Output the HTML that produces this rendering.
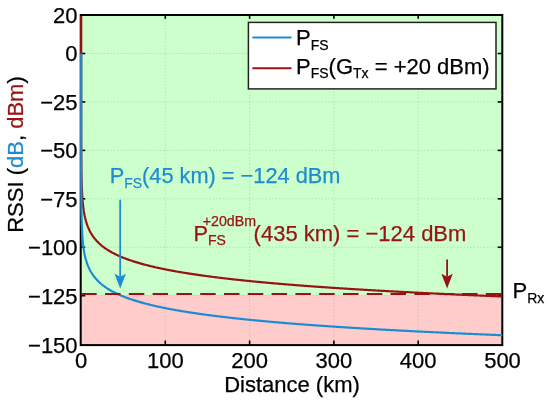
<!DOCTYPE html>
<html><head><meta charset="utf-8"><style>
html,body{margin:0;padding:0;background:#fff;width:550px;height:401px;overflow:hidden}
svg{display:block}
</style></head><body>
<svg width="550" height="401" viewBox="0 0 550 401"><defs><clipPath id="c"><rect x="79.70" y="16.00" width="422.60" height="328.10"/></clipPath></defs><rect x="0" y="0" width="550" height="401" fill="#fff"/><rect x="80.70" y="15.00" width="421.60" height="280.00" fill="#ccffcc"/><rect x="80.70" y="295.00" width="421.60" height="50.10" fill="#ffcccc"/><g stroke="#9a9a9a" stroke-opacity="0.32" stroke-width="1" stroke-dasharray="1.6 1.7"><line x1="165.30" y1="15.00" x2="165.30" y2="345.10"/><line x1="249.60" y1="15.00" x2="249.60" y2="345.10"/><line x1="333.90" y1="15.00" x2="333.90" y2="345.10"/><line x1="418.20" y1="15.00" x2="418.20" y2="345.10"/><line x1="80.70" y1="53.50" x2="502.30" y2="53.50"/><line x1="80.70" y1="101.94" x2="502.30" y2="101.94"/><line x1="80.70" y1="150.38" x2="502.30" y2="150.38"/><line x1="80.70" y1="198.81" x2="502.30" y2="198.81"/><line x1="80.70" y1="247.25" x2="502.30" y2="247.25"/><line x1="80.70" y1="295.69" x2="502.30" y2="295.69"/></g><rect x="80.70" y="15.00" width="421.60" height="330.10" fill="none" stroke="#000" stroke-width="2"/><g stroke="#000" stroke-width="1.6"><line x1="165.30" y1="345.10" x2="165.30" y2="340.50"/><line x1="165.30" y1="15.00" x2="165.30" y2="18.80"/><line x1="249.60" y1="345.10" x2="249.60" y2="340.50"/><line x1="249.60" y1="15.00" x2="249.60" y2="18.80"/><line x1="333.90" y1="345.10" x2="333.90" y2="340.50"/><line x1="333.90" y1="15.00" x2="333.90" y2="18.80"/><line x1="418.20" y1="345.10" x2="418.20" y2="340.50"/><line x1="418.20" y1="15.00" x2="418.20" y2="18.80"/><line x1="80.70" y1="53.50" x2="85.30" y2="53.50"/><line x1="502.30" y1="53.50" x2="497.70" y2="53.50"/><line x1="80.70" y1="101.94" x2="85.30" y2="101.94"/><line x1="502.30" y1="101.94" x2="497.70" y2="101.94"/><line x1="80.70" y1="150.38" x2="85.30" y2="150.38"/><line x1="502.30" y1="150.38" x2="497.70" y2="150.38"/><line x1="80.70" y1="198.81" x2="85.30" y2="198.81"/><line x1="502.30" y1="198.81" x2="497.70" y2="198.81"/><line x1="80.70" y1="247.25" x2="85.30" y2="247.25"/><line x1="502.30" y1="247.25" x2="497.70" y2="247.25"/><line x1="80.70" y1="295.69" x2="85.30" y2="295.69"/><line x1="502.30" y1="295.69" x2="497.70" y2="295.69"/></g><g clip-path="url(#c)" fill="none" stroke-width="2.2" stroke-linejoin="round"><path d="M81.20,14.75 L81.20,15.38 L81.20,16.01 L81.20,16.64 L81.20,17.27 L81.20,17.90 L81.20,18.53 L81.20,19.16 L81.20,19.79 L81.20,20.41 L81.20,21.04 L81.20,21.67 L81.20,22.30 L81.20,22.93 L81.20,23.56 L81.20,24.19 L81.20,24.82 L81.20,25.45 L81.20,26.08 L81.20,26.71 L81.20,27.34 L81.20,27.97 L81.20,28.60 L81.20,29.23 L81.20,29.86 L81.20,30.49 L81.20,31.11 L81.20,31.74 L81.20,32.37 L81.20,33.00 L81.20,33.63 L81.20,34.26 L81.20,34.89 L81.20,35.52 L81.20,36.15 L81.20,36.78 L81.20,37.41 L81.20,38.04 L81.20,38.67 L81.20,39.30 L81.20,39.93 L81.20,40.56 L81.20,41.19 L81.20,41.81 L81.20,42.44 L81.20,43.07 L81.20,43.70 L81.20,44.33 L81.20,44.96 L81.20,45.59 L81.20,46.22 L81.20,46.85 L81.20,47.48 L81.20,48.11 L81.20,48.74 L81.20,49.37 L81.20,50.00 L81.20,50.63 L81.20,51.26 L81.20,51.88 L81.20,52.51 L81.20,53.14 L81.20,53.77 L81.20,54.40 L81.20,55.03 L81.20,55.66 L81.20,56.29 L81.20,56.92 L81.20,57.55 L81.20,58.18 L81.20,58.81 L81.20,59.44 L81.20,60.07 L81.20,60.70 L81.20,61.33 L81.20,61.96 L81.20,62.58 L81.20,63.21 L81.20,63.84 L81.20,64.47 L81.20,65.10 L81.20,65.73 L81.20,66.36 L81.20,66.99 L81.20,67.62 L81.20,68.25 L81.20,68.88 L81.20,69.51 L81.20,70.14 L81.20,70.77 L81.20,71.40 L81.20,72.03 L81.20,72.66 L81.20,73.28 L81.20,73.91 L81.20,74.54 L81.20,75.17 L81.20,75.80 L81.20,76.43 L81.20,77.06 L81.20,77.69 L81.20,78.32 L81.20,78.95 L81.20,79.58 L81.20,80.21 L81.20,80.84 L81.20,81.47 L81.20,82.10 L81.20,82.73 L81.20,83.36 L81.20,83.98 L81.20,84.61 L81.20,85.24 L81.20,85.87 L81.20,86.50 L81.20,87.13 L81.20,87.76 L81.20,88.39 L81.20,89.02 L81.20,89.65 L81.20,90.28 L81.20,90.91 L81.20,91.54 L81.20,92.17 L81.20,92.80 L81.20,93.43 L81.20,94.06 L81.20,94.68 L81.20,95.31 L81.20,95.94 L81.20,96.57 L81.20,97.20 L81.20,97.83 L81.20,98.46 L81.20,99.09 L81.20,99.72 L81.20,100.35 L81.20,100.98 L81.20,101.61 L81.20,102.24 L81.20,102.87 L81.20,103.50 L81.20,104.13 L81.20,104.75 L81.20,105.38 L81.21,106.01 L81.21,106.64 L81.21,107.27 L81.21,107.90 L81.21,108.53 L81.21,109.16 L81.21,109.79 L81.21,110.42 L81.21,111.05 L81.21,111.68 L81.21,112.31 L81.21,112.94 L81.21,113.57 L81.21,114.20 L81.21,114.83 L81.21,115.45 L81.21,116.08 L81.21,116.71 L81.21,117.34 L81.21,117.97 L81.21,118.60 L81.21,119.23 L81.21,119.86 L81.21,120.49 L81.21,121.12 L81.21,121.75 L81.21,122.38 L81.21,123.01 L81.21,123.64 L81.22,124.27 L81.22,124.90 L81.22,125.53 L81.22,126.15 L81.22,126.78 L81.22,127.41 L81.22,128.04 L81.22,128.67 L81.22,129.30 L81.22,129.93 L81.22,130.56 L81.22,131.19 L81.22,131.82 L81.22,132.45 L81.23,133.08 L81.23,133.71 L81.23,134.34 L81.23,134.97 L81.23,135.60 L81.23,136.23 L81.23,136.85 L81.23,137.48 L81.23,138.11 L81.24,138.74 L81.24,139.37 L81.24,140.00 L81.24,140.63 L81.24,141.26 L81.24,141.89 L81.24,142.52 L81.25,143.15 L81.25,143.78 L81.25,144.41 L81.25,145.04 L81.25,145.67 L81.26,146.30 L81.26,146.93 L81.26,147.55 L81.26,148.18 L81.27,148.81 L81.27,149.44 L81.27,150.07 L81.27,150.70 L81.28,151.33 L81.28,151.96 L81.28,152.59 L81.28,153.22 L81.29,153.85 L81.29,154.48 L81.29,155.11 L81.30,155.74 L81.30,156.37 L81.31,157.00 L81.31,157.63 L81.31,158.25 L81.32,158.88 L81.32,159.51 L81.33,160.14 L81.33,160.77 L81.34,161.40 L81.34,162.03 L81.35,162.66 L81.35,163.29 L81.36,163.92 L81.37,164.55 L81.37,165.18 L81.38,165.81 L81.39,166.44 L81.39,167.07 L81.40,167.70 L81.41,168.32 L81.42,168.95 L81.42,169.58 L81.43,170.21 L81.44,170.84 L81.45,171.47 L81.46,172.10 L81.47,172.73 L81.48,173.36 L81.49,173.99 L81.50,174.62 L81.51,175.25 L81.53,175.88 L81.54,176.51 L81.55,177.14 L81.56,177.77 L81.58,178.40 L81.59,179.02 L81.61,179.65 L81.62,180.28 L81.64,180.91 L81.66,181.54 L81.67,182.17 L81.69,182.80 L81.71,183.43 L81.73,184.06 L81.75,184.69 L81.77,185.32 L81.79,185.95 L81.81,186.58 L81.84,187.21 L81.86,187.84 L81.89,188.47 L81.91,189.10 L81.94,189.72 L81.97,190.35 L82.00,190.98 L82.03,191.61 L82.06,192.24 L82.09,192.87 L82.13,193.50 L82.16,194.13 L82.20,194.76 L82.24,195.39 L82.28,196.02 L82.32,196.65 L82.36,197.28 L82.40,197.91 L82.45,198.54 L82.50,199.17 L82.55,199.80 L82.60,200.42 L82.65,201.05 L82.71,201.68 L82.76,202.31 L82.82,202.94 L82.89,203.57 L83.31,207.33 L83.73,210.40 L84.15,212.99 L84.57,215.24 L84.99,217.22 L85.42,218.99 L85.84,220.60 L86.26,222.06 L86.68,223.41 L87.10,224.65 L87.52,225.82 L87.94,226.90 L88.37,227.92 L88.79,228.88 L89.21,229.79 L89.63,230.66 L90.05,231.48 L90.47,232.26 L90.89,233.01 L91.32,233.73 L91.74,234.41 L92.16,235.07 L92.58,235.71 L93.00,236.32 L93.42,236.91 L93.84,237.48 L94.27,238.03 L94.69,238.57 L95.11,239.08 L95.53,239.59 L95.95,240.07 L96.37,240.55 L96.80,241.01 L97.22,241.46 L97.64,241.90 L98.06,242.32 L98.48,242.74 L98.90,243.14 L99.32,243.54 L99.75,243.93 L100.17,244.30 L100.59,244.67 L101.01,245.04 L101.43,245.39 L101.85,245.74 L102.28,246.08 L102.70,246.41 L103.12,246.74 L103.54,247.06 L103.96,247.37 L104.38,247.68 L104.80,247.98 L105.23,248.28 L105.65,248.57 L106.07,248.86 L106.49,249.15 L106.91,249.42 L107.33,249.70 L107.75,249.97 L108.18,250.23 L108.60,250.49 L109.02,250.75 L109.44,251.00 L109.86,251.25 L110.28,251.50 L110.70,251.74 L111.13,251.98 L111.55,252.21 L111.97,252.45 L112.39,252.67 L112.81,252.90 L113.23,253.12 L113.66,253.34 L114.08,253.56 L114.50,253.77 L114.92,253.99 L115.34,254.20 L115.76,254.40 L116.18,254.61 L116.61,254.81 L117.03,255.01 L117.45,255.20 L117.87,255.40 L118.29,255.59 L118.71,255.78 L119.14,255.97 L119.56,256.15 L119.98,256.34 L120.40,256.52 L120.82,256.70 L121.66,257.05 L122.51,257.40 L123.35,257.74 L124.19,258.08 L125.04,258.40 L125.88,258.72 L126.72,259.04 L127.57,259.35 L128.41,259.65 L129.25,259.95 L130.09,260.24 L130.94,260.53 L131.78,260.81 L132.62,261.09 L133.47,261.36 L134.31,261.63 L135.15,261.90 L136.00,262.16 L136.84,262.41 L137.68,262.67 L138.52,262.92 L139.37,263.16 L140.21,263.40 L141.05,263.64 L141.90,263.88 L142.74,264.11 L143.58,264.34 L144.42,264.57 L145.27,264.79 L146.11,265.01 L146.95,265.23 L147.80,265.44 L148.64,265.65 L149.48,265.86 L150.33,266.07 L151.17,266.27 L152.01,266.47 L152.85,266.67 L153.70,266.87 L154.54,267.06 L155.38,267.26 L156.23,267.45 L157.07,267.63 L157.91,267.82 L158.76,268.00 L159.60,268.19 L160.44,268.37 L161.28,268.54 L162.13,268.72 L162.97,268.89 L163.81,269.07 L164.66,269.24 L165.50,269.41 L166.34,269.57 L167.19,269.74 L168.03,269.90 L168.87,270.07 L169.71,270.23 L170.56,270.39 L171.40,270.55 L172.24,270.70 L173.09,270.86 L173.93,271.01 L174.77,271.16 L175.62,271.31 L176.46,271.46 L177.30,271.61 L178.14,271.76 L178.99,271.90 L179.83,272.05 L180.67,272.19 L181.52,272.33 L182.36,272.48 L183.20,272.61 L184.05,272.75 L184.89,272.89 L185.73,273.03 L186.57,273.16 L187.42,273.30 L188.26,273.43 L189.10,273.56 L189.95,273.69 L190.79,273.82 L191.63,273.95 L192.48,274.08 L193.32,274.21 L194.16,274.33 L195.00,274.46 L195.85,274.58 L196.69,274.70 L197.53,274.83 L198.38,274.95 L199.22,275.07 L200.06,275.19 L200.91,275.31 L201.75,275.43 L202.59,275.54 L203.44,275.66 L204.28,275.78 L205.12,275.89 L205.96,276.00 L206.81,276.12 L207.65,276.23 L208.49,276.34 L209.34,276.45 L210.18,276.56 L211.02,276.67 L211.86,276.78 L212.71,276.89 L213.55,277.00 L214.39,277.10 L215.24,277.21 L216.08,277.32 L216.92,277.42 L217.77,277.53 L218.61,277.63 L219.45,277.73 L220.29,277.83 L221.14,277.94 L221.98,278.04 L222.82,278.14 L223.67,278.24 L224.51,278.34 L225.35,278.44 L226.20,278.53 L227.04,278.63 L227.88,278.73 L228.72,278.82 L229.57,278.92 L230.41,279.02 L231.25,279.11 L232.10,279.20 L232.94,279.30 L233.78,279.39 L234.63,279.48 L235.47,279.58 L236.31,279.67 L237.16,279.76 L238.00,279.85 L238.84,279.94 L239.68,280.03 L240.53,280.12 L241.37,280.21 L242.21,280.30 L243.06,280.38 L243.90,280.47 L244.74,280.56 L245.58,280.65 L246.43,280.73 L247.27,280.82 L248.11,280.90 L248.96,280.99 L249.80,281.07 L250.64,281.16 L251.49,281.24 L252.33,281.32 L253.17,281.40 L254.01,281.49 L254.86,281.57 L255.70,281.65 L256.54,281.73 L257.39,281.81 L258.23,281.89 L259.07,281.97 L259.92,282.05 L260.76,282.13 L261.60,282.21 L262.44,282.29 L263.29,282.37 L264.13,282.44 L264.97,282.52 L265.82,282.60 L266.66,282.68 L267.50,282.75 L268.35,282.83 L269.19,282.90 L270.03,282.98 L270.88,283.05 L271.72,283.13 L272.56,283.20 L273.40,283.28 L274.25,283.35 L275.09,283.42 L275.93,283.50 L276.78,283.57 L277.62,283.64 L278.46,283.71 L279.31,283.79 L280.15,283.86 L280.99,283.93 L281.83,284.00 L282.68,284.07 L283.52,284.14 L284.36,284.21 L285.21,284.28 L286.05,284.35 L286.89,284.42 L287.73,284.49 L288.58,284.56 L289.42,284.62 L290.26,284.69 L291.11,284.76 L291.95,284.83 L292.79,284.89 L293.64,284.96 L294.48,285.03 L295.32,285.09 L296.17,285.16 L297.01,285.23 L297.85,285.29 L298.69,285.36 L299.54,285.42 L300.38,285.49 L301.22,285.55 L302.07,285.62 L302.91,285.68 L303.75,285.74 L304.59,285.81 L305.44,285.87 L306.28,285.93 L307.12,286.00 L307.97,286.06 L308.81,286.12 L309.65,286.18 L310.50,286.25 L311.34,286.31 L312.18,286.37 L313.02,286.43 L313.87,286.49 L314.71,286.55 L315.55,286.61 L316.40,286.67 L317.24,286.73 L318.08,286.79 L318.93,286.85 L319.77,286.91 L320.61,286.97 L321.45,287.03 L322.30,287.09 L323.14,287.15 L323.98,287.21 L324.83,287.27 L325.67,287.32 L326.51,287.38 L327.36,287.44 L328.20,287.50 L329.04,287.56 L329.88,287.61 L330.73,287.67 L331.57,287.73 L332.41,287.78 L333.26,287.84 L334.10,287.90 L334.94,287.95 L335.79,288.01 L336.63,288.06 L337.47,288.12 L338.31,288.17 L339.16,288.23 L340.00,288.28 L340.84,288.34 L341.69,288.39 L342.53,288.45 L343.37,288.50 L344.22,288.56 L345.06,288.61 L345.90,288.66 L346.75,288.72 L347.59,288.77 L348.43,288.82 L349.27,288.88 L350.12,288.93 L350.96,288.98 L351.80,289.03 L352.65,289.09 L353.49,289.14 L354.33,289.19 L355.18,289.24 L356.02,289.29 L356.86,289.35 L357.70,289.40 L358.55,289.45 L359.39,289.50 L360.23,289.55 L361.08,289.60 L361.92,289.65 L362.76,289.70 L363.60,289.75 L364.45,289.80 L365.29,289.85 L366.13,289.90 L366.98,289.95 L367.82,290.00 L368.66,290.05 L369.51,290.10 L370.35,290.15 L371.19,290.20 L372.03,290.25 L372.88,290.30 L373.72,290.34 L374.56,290.39 L375.41,290.44 L376.25,290.49 L377.09,290.54 L377.94,290.59 L378.78,290.63 L379.62,290.68 L380.46,290.73 L381.31,290.78 L382.15,290.82 L382.99,290.87 L383.84,290.92 L384.68,290.96 L385.52,291.01 L386.37,291.06 L387.21,291.10 L388.05,291.15 L388.89,291.20 L389.74,291.24 L390.58,291.29 L391.42,291.33 L392.27,291.38 L393.11,291.42 L393.95,291.47 L394.80,291.52 L395.64,291.56 L396.48,291.61 L397.32,291.65 L398.17,291.70 L399.01,291.74 L399.85,291.78 L400.70,291.83 L401.54,291.87 L402.38,291.92 L403.23,291.96 L404.07,292.01 L404.91,292.05 L405.75,292.09 L406.60,292.14 L407.44,292.18 L408.28,292.22 L409.13,292.27 L409.97,292.31 L410.81,292.35 L411.66,292.40 L412.50,292.44 L413.34,292.48 L414.19,292.52 L415.03,292.57 L415.87,292.61 L416.71,292.65 L417.56,292.69 L418.40,292.74 L419.24,292.78 L420.09,292.82 L420.93,292.86 L421.77,292.90 L422.62,292.95 L423.46,292.99 L424.30,293.03 L425.14,293.07 L425.99,293.11 L426.83,293.15 L427.67,293.19 L428.52,293.23 L429.36,293.27 L430.20,293.32 L431.05,293.36 L431.89,293.40 L432.73,293.44 L433.57,293.48 L434.42,293.52 L435.26,293.56 L436.10,293.60 L436.95,293.64 L437.79,293.68 L438.63,293.72 L439.47,293.76 L440.32,293.80 L441.16,293.84 L442.00,293.88 L442.85,293.91 L443.69,293.95 L444.53,293.99 L445.38,294.03 L446.22,294.07 L447.06,294.11 L447.90,294.15 L448.75,294.19 L449.59,294.23 L450.43,294.26 L451.28,294.30 L452.12,294.34 L452.96,294.38 L453.81,294.42 L454.65,294.45 L455.49,294.49 L456.33,294.53 L457.18,294.57 L458.02,294.61 L458.86,294.64 L459.71,294.68 L460.55,294.72 L461.39,294.76 L462.24,294.79 L463.08,294.83 L463.92,294.87 L464.76,294.90 L465.61,294.94 L466.45,294.98 L467.29,295.02 L468.14,295.05 L468.98,295.09 L469.82,295.13 L470.67,295.16 L471.51,295.20 L472.35,295.23 L473.19,295.27 L474.04,295.31 L474.88,295.34 L475.72,295.38 L476.57,295.41 L477.41,295.45 L478.25,295.49 L479.10,295.52 L479.94,295.56 L480.78,295.59 L481.62,295.63 L482.47,295.66 L483.31,295.70 L484.15,295.73 L485.00,295.77 L485.84,295.80 L486.68,295.84 L487.53,295.87 L488.37,295.91 L489.21,295.94 L490.06,295.98 L490.90,296.01 L491.74,296.05 L492.58,296.08 L493.43,296.12 L494.27,296.15 L495.11,296.19 L495.96,296.22 L496.80,296.25 L497.64,296.29 L498.49,296.32 L499.33,296.36 L500.17,296.39 L501.01,296.42 L501.86,296.46 L502.70,296.49" stroke="#981414"/><path d="M81.20,53.50 L81.20,54.13 L81.20,54.76 L81.20,55.39 L81.20,56.02 L81.20,56.65 L81.20,57.28 L81.20,57.91 L81.20,58.54 L81.20,59.16 L81.20,59.79 L81.20,60.42 L81.20,61.05 L81.20,61.68 L81.20,62.31 L81.20,62.94 L81.20,63.57 L81.20,64.20 L81.20,64.83 L81.20,65.46 L81.20,66.09 L81.20,66.72 L81.20,67.35 L81.20,67.98 L81.20,68.61 L81.20,69.24 L81.20,69.86 L81.20,70.49 L81.20,71.12 L81.20,71.75 L81.20,72.38 L81.20,73.01 L81.20,73.64 L81.20,74.27 L81.20,74.90 L81.20,75.53 L81.20,76.16 L81.20,76.79 L81.20,77.42 L81.20,78.05 L81.20,78.68 L81.20,79.31 L81.20,79.94 L81.20,80.56 L81.20,81.19 L81.20,81.82 L81.20,82.45 L81.20,83.08 L81.20,83.71 L81.20,84.34 L81.20,84.97 L81.20,85.60 L81.20,86.23 L81.20,86.86 L81.20,87.49 L81.20,88.12 L81.20,88.75 L81.20,89.38 L81.20,90.01 L81.20,90.63 L81.20,91.26 L81.20,91.89 L81.20,92.52 L81.20,93.15 L81.20,93.78 L81.20,94.41 L81.20,95.04 L81.20,95.67 L81.20,96.30 L81.20,96.93 L81.20,97.56 L81.20,98.19 L81.20,98.82 L81.20,99.45 L81.20,100.08 L81.20,100.71 L81.20,101.33 L81.20,101.96 L81.20,102.59 L81.20,103.22 L81.20,103.85 L81.20,104.48 L81.20,105.11 L81.20,105.74 L81.20,106.37 L81.20,107.00 L81.20,107.63 L81.20,108.26 L81.20,108.89 L81.20,109.52 L81.20,110.15 L81.20,110.78 L81.20,111.41 L81.20,112.03 L81.20,112.66 L81.20,113.29 L81.20,113.92 L81.20,114.55 L81.20,115.18 L81.20,115.81 L81.20,116.44 L81.20,117.07 L81.20,117.70 L81.20,118.33 L81.20,118.96 L81.20,119.59 L81.20,120.22 L81.20,120.85 L81.20,121.48 L81.20,122.11 L81.20,122.73 L81.20,123.36 L81.20,123.99 L81.20,124.62 L81.20,125.25 L81.20,125.88 L81.20,126.51 L81.20,127.14 L81.20,127.77 L81.20,128.40 L81.20,129.03 L81.20,129.66 L81.20,130.29 L81.20,130.92 L81.20,131.55 L81.20,132.18 L81.20,132.81 L81.20,133.43 L81.20,134.06 L81.20,134.69 L81.20,135.32 L81.20,135.95 L81.20,136.58 L81.20,137.21 L81.20,137.84 L81.20,138.47 L81.20,139.10 L81.20,139.73 L81.20,140.36 L81.20,140.99 L81.20,141.62 L81.20,142.25 L81.20,142.88 L81.20,143.50 L81.20,144.13 L81.21,144.76 L81.21,145.39 L81.21,146.02 L81.21,146.65 L81.21,147.28 L81.21,147.91 L81.21,148.54 L81.21,149.17 L81.21,149.80 L81.21,150.43 L81.21,151.06 L81.21,151.69 L81.21,152.32 L81.21,152.95 L81.21,153.58 L81.21,154.20 L81.21,154.83 L81.21,155.46 L81.21,156.09 L81.21,156.72 L81.21,157.35 L81.21,157.98 L81.21,158.61 L81.21,159.24 L81.21,159.87 L81.21,160.50 L81.21,161.13 L81.21,161.76 L81.21,162.39 L81.22,163.02 L81.22,163.65 L81.22,164.28 L81.22,164.90 L81.22,165.53 L81.22,166.16 L81.22,166.79 L81.22,167.42 L81.22,168.05 L81.22,168.68 L81.22,169.31 L81.22,169.94 L81.22,170.57 L81.22,171.20 L81.23,171.83 L81.23,172.46 L81.23,173.09 L81.23,173.72 L81.23,174.35 L81.23,174.98 L81.23,175.60 L81.23,176.23 L81.23,176.86 L81.24,177.49 L81.24,178.12 L81.24,178.75 L81.24,179.38 L81.24,180.01 L81.24,180.64 L81.24,181.27 L81.25,181.90 L81.25,182.53 L81.25,183.16 L81.25,183.79 L81.25,184.42 L81.26,185.05 L81.26,185.68 L81.26,186.30 L81.26,186.93 L81.27,187.56 L81.27,188.19 L81.27,188.82 L81.27,189.45 L81.28,190.08 L81.28,190.71 L81.28,191.34 L81.28,191.97 L81.29,192.60 L81.29,193.23 L81.29,193.86 L81.30,194.49 L81.30,195.12 L81.31,195.75 L81.31,196.38 L81.31,197.00 L81.32,197.63 L81.32,198.26 L81.33,198.89 L81.33,199.52 L81.34,200.15 L81.34,200.78 L81.35,201.41 L81.35,202.04 L81.36,202.67 L81.37,203.30 L81.37,203.93 L81.38,204.56 L81.39,205.19 L81.39,205.82 L81.40,206.45 L81.41,207.07 L81.42,207.70 L81.42,208.33 L81.43,208.96 L81.44,209.59 L81.45,210.22 L81.46,210.85 L81.47,211.48 L81.48,212.11 L81.49,212.74 L81.50,213.37 L81.51,214.00 L81.53,214.63 L81.54,215.26 L81.55,215.89 L81.56,216.52 L81.58,217.15 L81.59,217.77 L81.61,218.40 L81.62,219.03 L81.64,219.66 L81.66,220.29 L81.67,220.92 L81.69,221.55 L81.71,222.18 L81.73,222.81 L81.75,223.44 L81.77,224.07 L81.79,224.70 L81.81,225.33 L81.84,225.96 L81.86,226.59 L81.89,227.22 L81.91,227.85 L81.94,228.47 L81.97,229.10 L82.00,229.73 L82.03,230.36 L82.06,230.99 L82.09,231.62 L82.13,232.25 L82.16,232.88 L82.20,233.51 L82.24,234.14 L82.28,234.77 L82.32,235.40 L82.36,236.03 L82.40,236.66 L82.45,237.29 L82.50,237.92 L82.55,238.55 L82.60,239.17 L82.65,239.80 L82.71,240.43 L82.76,241.06 L82.82,241.69 L82.89,242.32 L83.31,246.08 L83.73,249.15 L84.15,251.74 L84.57,253.99 L84.99,255.97 L85.42,257.74 L85.84,259.35 L86.26,260.81 L86.68,262.16 L87.10,263.40 L87.52,264.57 L87.94,265.65 L88.37,266.67 L88.79,267.63 L89.21,268.54 L89.63,269.41 L90.05,270.23 L90.47,271.01 L90.89,271.76 L91.32,272.48 L91.74,273.16 L92.16,273.82 L92.58,274.46 L93.00,275.07 L93.42,275.66 L93.84,276.23 L94.27,276.78 L94.69,277.32 L95.11,277.83 L95.53,278.34 L95.95,278.82 L96.37,279.30 L96.80,279.76 L97.22,280.21 L97.64,280.65 L98.06,281.07 L98.48,281.49 L98.90,281.89 L99.32,282.29 L99.75,282.68 L100.17,283.05 L100.59,283.42 L101.01,283.79 L101.43,284.14 L101.85,284.49 L102.28,284.83 L102.70,285.16 L103.12,285.49 L103.54,285.81 L103.96,286.12 L104.38,286.43 L104.80,286.73 L105.23,287.03 L105.65,287.32 L106.07,287.61 L106.49,287.90 L106.91,288.17 L107.33,288.45 L107.75,288.72 L108.18,288.98 L108.60,289.24 L109.02,289.50 L109.44,289.75 L109.86,290.00 L110.28,290.25 L110.70,290.49 L111.13,290.73 L111.55,290.96 L111.97,291.20 L112.39,291.42 L112.81,291.65 L113.23,291.87 L113.66,292.09 L114.08,292.31 L114.50,292.52 L114.92,292.74 L115.34,292.95 L115.76,293.15 L116.18,293.36 L116.61,293.56 L117.03,293.76 L117.45,293.95 L117.87,294.15 L118.29,294.34 L118.71,294.53 L119.14,294.72 L119.56,294.90 L119.98,295.09 L120.40,295.27 L120.82,295.45 L121.66,295.80 L122.51,296.15 L123.35,296.49 L124.19,296.83 L125.04,297.15 L125.88,297.47 L126.72,297.79 L127.57,298.10 L128.41,298.40 L129.25,298.70 L130.09,298.99 L130.94,299.28 L131.78,299.56 L132.62,299.84 L133.47,300.11 L134.31,300.38 L135.15,300.65 L136.00,300.91 L136.84,301.16 L137.68,301.42 L138.52,301.67 L139.37,301.91 L140.21,302.15 L141.05,302.39 L141.90,302.63 L142.74,302.86 L143.58,303.09 L144.42,303.32 L145.27,303.54 L146.11,303.76 L146.95,303.98 L147.80,304.19 L148.64,304.40 L149.48,304.61 L150.33,304.82 L151.17,305.02 L152.01,305.22 L152.85,305.42 L153.70,305.62 L154.54,305.81 L155.38,306.01 L156.23,306.20 L157.07,306.38 L157.91,306.57 L158.76,306.75 L159.60,306.94 L160.44,307.12 L161.28,307.29 L162.13,307.47 L162.97,307.64 L163.81,307.82 L164.66,307.99 L165.50,308.16 L166.34,308.32 L167.19,308.49 L168.03,308.65 L168.87,308.82 L169.71,308.98 L170.56,309.14 L171.40,309.30 L172.24,309.45 L173.09,309.61 L173.93,309.76 L174.77,309.91 L175.62,310.06 L176.46,310.21 L177.30,310.36 L178.14,310.51 L178.99,310.65 L179.83,310.80 L180.67,310.94 L181.52,311.08 L182.36,311.23 L183.20,311.36 L184.05,311.50 L184.89,311.64 L185.73,311.78 L186.57,311.91 L187.42,312.05 L188.26,312.18 L189.10,312.31 L189.95,312.44 L190.79,312.57 L191.63,312.70 L192.48,312.83 L193.32,312.96 L194.16,313.08 L195.00,313.21 L195.85,313.33 L196.69,313.45 L197.53,313.58 L198.38,313.70 L199.22,313.82 L200.06,313.94 L200.91,314.06 L201.75,314.18 L202.59,314.29 L203.44,314.41 L204.28,314.53 L205.12,314.64 L205.96,314.75 L206.81,314.87 L207.65,314.98 L208.49,315.09 L209.34,315.20 L210.18,315.31 L211.02,315.42 L211.86,315.53 L212.71,315.64 L213.55,315.75 L214.39,315.85 L215.24,315.96 L216.08,316.07 L216.92,316.17 L217.77,316.28 L218.61,316.38 L219.45,316.48 L220.29,316.58 L221.14,316.69 L221.98,316.79 L222.82,316.89 L223.67,316.99 L224.51,317.09 L225.35,317.19 L226.20,317.28 L227.04,317.38 L227.88,317.48 L228.72,317.57 L229.57,317.67 L230.41,317.77 L231.25,317.86 L232.10,317.95 L232.94,318.05 L233.78,318.14 L234.63,318.23 L235.47,318.33 L236.31,318.42 L237.16,318.51 L238.00,318.60 L238.84,318.69 L239.68,318.78 L240.53,318.87 L241.37,318.96 L242.21,319.05 L243.06,319.13 L243.90,319.22 L244.74,319.31 L245.58,319.40 L246.43,319.48 L247.27,319.57 L248.11,319.65 L248.96,319.74 L249.80,319.82 L250.64,319.91 L251.49,319.99 L252.33,320.07 L253.17,320.15 L254.01,320.24 L254.86,320.32 L255.70,320.40 L256.54,320.48 L257.39,320.56 L258.23,320.64 L259.07,320.72 L259.92,320.80 L260.76,320.88 L261.60,320.96 L262.44,321.04 L263.29,321.12 L264.13,321.19 L264.97,321.27 L265.82,321.35 L266.66,321.43 L267.50,321.50 L268.35,321.58 L269.19,321.65 L270.03,321.73 L270.88,321.80 L271.72,321.88 L272.56,321.95 L273.40,322.03 L274.25,322.10 L275.09,322.17 L275.93,322.25 L276.78,322.32 L277.62,322.39 L278.46,322.46 L279.31,322.54 L280.15,322.61 L280.99,322.68 L281.83,322.75 L282.68,322.82 L283.52,322.89 L284.36,322.96 L285.21,323.03 L286.05,323.10 L286.89,323.17 L287.73,323.24 L288.58,323.31 L289.42,323.37 L290.26,323.44 L291.11,323.51 L291.95,323.58 L292.79,323.64 L293.64,323.71 L294.48,323.78 L295.32,323.84 L296.17,323.91 L297.01,323.98 L297.85,324.04 L298.69,324.11 L299.54,324.17 L300.38,324.24 L301.22,324.30 L302.07,324.37 L302.91,324.43 L303.75,324.49 L304.59,324.56 L305.44,324.62 L306.28,324.68 L307.12,324.75 L307.97,324.81 L308.81,324.87 L309.65,324.93 L310.50,325.00 L311.34,325.06 L312.18,325.12 L313.02,325.18 L313.87,325.24 L314.71,325.30 L315.55,325.36 L316.40,325.42 L317.24,325.48 L318.08,325.54 L318.93,325.60 L319.77,325.66 L320.61,325.72 L321.45,325.78 L322.30,325.84 L323.14,325.90 L323.98,325.96 L324.83,326.02 L325.67,326.07 L326.51,326.13 L327.36,326.19 L328.20,326.25 L329.04,326.31 L329.88,326.36 L330.73,326.42 L331.57,326.48 L332.41,326.53 L333.26,326.59 L334.10,326.65 L334.94,326.70 L335.79,326.76 L336.63,326.81 L337.47,326.87 L338.31,326.92 L339.16,326.98 L340.00,327.03 L340.84,327.09 L341.69,327.14 L342.53,327.20 L343.37,327.25 L344.22,327.31 L345.06,327.36 L345.90,327.41 L346.75,327.47 L347.59,327.52 L348.43,327.57 L349.27,327.63 L350.12,327.68 L350.96,327.73 L351.80,327.78 L352.65,327.84 L353.49,327.89 L354.33,327.94 L355.18,327.99 L356.02,328.04 L356.86,328.10 L357.70,328.15 L358.55,328.20 L359.39,328.25 L360.23,328.30 L361.08,328.35 L361.92,328.40 L362.76,328.45 L363.60,328.50 L364.45,328.55 L365.29,328.60 L366.13,328.65 L366.98,328.70 L367.82,328.75 L368.66,328.80 L369.51,328.85 L370.35,328.90 L371.19,328.95 L372.03,329.00 L372.88,329.05 L373.72,329.09 L374.56,329.14 L375.41,329.19 L376.25,329.24 L377.09,329.29 L377.94,329.34 L378.78,329.38 L379.62,329.43 L380.46,329.48 L381.31,329.53 L382.15,329.57 L382.99,329.62 L383.84,329.67 L384.68,329.71 L385.52,329.76 L386.37,329.81 L387.21,329.85 L388.05,329.90 L388.89,329.95 L389.74,329.99 L390.58,330.04 L391.42,330.08 L392.27,330.13 L393.11,330.17 L393.95,330.22 L394.80,330.27 L395.64,330.31 L396.48,330.36 L397.32,330.40 L398.17,330.45 L399.01,330.49 L399.85,330.53 L400.70,330.58 L401.54,330.62 L402.38,330.67 L403.23,330.71 L404.07,330.76 L404.91,330.80 L405.75,330.84 L406.60,330.89 L407.44,330.93 L408.28,330.97 L409.13,331.02 L409.97,331.06 L410.81,331.10 L411.66,331.15 L412.50,331.19 L413.34,331.23 L414.19,331.27 L415.03,331.32 L415.87,331.36 L416.71,331.40 L417.56,331.44 L418.40,331.49 L419.24,331.53 L420.09,331.57 L420.93,331.61 L421.77,331.65 L422.62,331.70 L423.46,331.74 L424.30,331.78 L425.14,331.82 L425.99,331.86 L426.83,331.90 L427.67,331.94 L428.52,331.98 L429.36,332.02 L430.20,332.07 L431.05,332.11 L431.89,332.15 L432.73,332.19 L433.57,332.23 L434.42,332.27 L435.26,332.31 L436.10,332.35 L436.95,332.39 L437.79,332.43 L438.63,332.47 L439.47,332.51 L440.32,332.55 L441.16,332.59 L442.00,332.63 L442.85,332.66 L443.69,332.70 L444.53,332.74 L445.38,332.78 L446.22,332.82 L447.06,332.86 L447.90,332.90 L448.75,332.94 L449.59,332.98 L450.43,333.01 L451.28,333.05 L452.12,333.09 L452.96,333.13 L453.81,333.17 L454.65,333.20 L455.49,333.24 L456.33,333.28 L457.18,333.32 L458.02,333.36 L458.86,333.39 L459.71,333.43 L460.55,333.47 L461.39,333.51 L462.24,333.54 L463.08,333.58 L463.92,333.62 L464.76,333.65 L465.61,333.69 L466.45,333.73 L467.29,333.77 L468.14,333.80 L468.98,333.84 L469.82,333.88 L470.67,333.91 L471.51,333.95 L472.35,333.98 L473.19,334.02 L474.04,334.06 L474.88,334.09 L475.72,334.13 L476.57,334.16 L477.41,334.20 L478.25,334.24 L479.10,334.27 L479.94,334.31 L480.78,334.34 L481.62,334.38 L482.47,334.41 L483.31,334.45 L484.15,334.48 L485.00,334.52 L485.84,334.55 L486.68,334.59 L487.53,334.62 L488.37,334.66 L489.21,334.69 L490.06,334.73 L490.90,334.76 L491.74,334.80 L492.58,334.83 L493.43,334.87 L494.27,334.90 L495.11,334.94 L495.96,334.97 L496.80,335.00 L497.64,335.04 L498.49,335.07 L499.33,335.11 L500.17,335.14 L501.01,335.17 L501.86,335.21 L502.70,335.24" stroke="#1e8cd0"/></g><line x1="81.2" y1="293.90" x2="502.30" y2="293.90" stroke="#981414" stroke-width="2" stroke-dasharray="15.5 8.3"/><line x1="120.2" y1="199.7" x2="120.2" y2="276.7" stroke="#1e8cd0" stroke-width="1.8"/><path d="M120.2,288.5 L114.5,273.7 L120.2,276.7 L125.9,273.7 Z" fill="#1e8cd0"/><line x1="447.1" y1="259.4" x2="447.1" y2="276.7" stroke="#981414" stroke-width="1.8"/><path d="M447.1,288.5 L441.40000000000003,273.7 L447.1,276.7 L452.8,273.7 Z" fill="#981414"/><g font-family="'Liberation Sans', Arial, Helvetica, sans-serif" font-size="22" fill="#000" stroke="#000" stroke-width="0.25"><text x="77.6" y="22.55" text-anchor="end">20</text><text x="77.6" y="61.30" text-anchor="end">0</text><text x="77.6" y="109.74" text-anchor="end">−25</text><text x="77.6" y="158.18" text-anchor="end">−50</text><text x="77.6" y="206.61" text-anchor="end">−75</text><text x="77.6" y="255.05" text-anchor="end">−100</text><text x="77.6" y="304.39" text-anchor="end">−125</text><text x="77.6" y="352.82" text-anchor="end">−150</text><text x="81.00" y="368.3" text-anchor="middle">0</text><text x="165.30" y="368.3" text-anchor="middle">100</text><text x="249.60" y="368.3" text-anchor="middle">200</text><text x="333.90" y="368.3" text-anchor="middle">300</text><text x="418.20" y="368.3" text-anchor="middle">400</text><text x="502.50" y="368.3" text-anchor="middle">500</text><text x="292" y="391.5" text-anchor="middle">Distance (km)</text><text transform="translate(22.5,154.5) rotate(-90)" text-anchor="middle">RSSI (<tspan fill="#1e8cd0" stroke="#1e8cd0">dB</tspan>, <tspan fill="#981414" stroke="#981414">dBm</tspan>)</text></g><rect x="248.4" y="22.4" width="247.6" height="66.5" fill="#fff" stroke="#222" stroke-width="1.5"/><line x1="252.4" y1="37.6" x2="291.5" y2="37.6" stroke="#1e8cd0" stroke-width="2"/><line x1="252.4" y1="68.3" x2="291.5" y2="68.3" stroke="#981414" stroke-width="2"/><g font-family="'Liberation Sans', Arial, Helvetica, sans-serif" font-size="22" fill="#000" stroke="#000" stroke-width="0.25"><text x="296" y="45">P<tspan font-size="14" dy="4.7">FS</tspan></text><text x="296" y="73.6">P<tspan font-size="14" dy="4.7">FS</tspan><tspan dy="-4.7">(G</tspan><tspan font-size="14" dy="4.7">Tx</tspan><tspan dy="-4.7"> = +20 dBm)</tspan></text></g><g font-family="'Liberation Sans', Arial, Helvetica, sans-serif" font-size="21.75" stroke-width="0.25"><text x="109.7" y="183.1" fill="#1e8cd0" stroke="#1e8cd0">P<tspan font-size="14" dy="4.7">FS</tspan><tspan dy="-4.7">(45 km) = −124 dBm</tspan></text><text x="193.6" y="240.5" fill="#981414" stroke="#981414">P<tspan x="207.9" font-size="14" dy="4.7">FS</tspan><tspan x="202.8" font-size="14.2" dy="-19.7">+20dBm</tspan><tspan x="253.6" dy="15" font-size="22">(435 km) = −124 dBm</tspan></text></g><g font-family="'Liberation Sans', Arial, Helvetica, sans-serif" font-size="22" stroke-width="0.25"><text x="512.5" y="298.1" fill="#000" stroke="#000">P<tspan font-size="14" dy="4.7">Rx</tspan></text></g></svg>
</body></html>
